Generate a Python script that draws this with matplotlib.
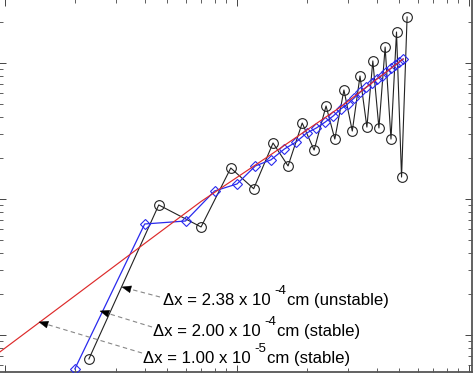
import numpy as np
import matplotlib
matplotlib.use("Agg")
import matplotlib.pyplot as plt
from matplotlib.patches import Polygon

plt.rcParams['font.family'] = ['Liberation Sans', 'DejaVu Sans']

# ---- data (x in units of 1e-4 cm) ----
x_unstable = [2.3, 4.6, 7.0, 9.4, 11.8, 14.3, 16.6, 19.1, 21.5, 24.2, 26.4,
              28.9, 31.4, 33.9, 36.3, 38.5, 40.9, 43.5, 46.1, 48.7, 51.2, 54.1]
y_unstable = [0.667, 9.04, 6.23, 16.9, 11.9, 25.8, 17.5, 36.2, 22.9, 48.3, 27.6,
              63.3, 31.6, 80.2, 33.8, 103.5, 33.3, 131.0, 27.6, 169.0, 14.5, 218.0]

x_stable2 = [2, 4, 6, 8, 10, 12, 14, 16, 18, 20, 22, 24, 26, 28, 30, 32,
             34, 36, 38, 40, 42, 44, 46, 48, 50, 52]
y_stable2 = [0.563, 6.55, 6.89, 11.45, 12.9, 17.5, 19.4, 23.3, 26.3, 30.6, 33.3,
             36.8, 40.8, 45.9, 50.0, 55.3, 61.2, 66.1, 71.3, 76.3, 80.9, 85.9,
             91.2, 96.6, 101.7, 107.0]

x_stable1 = [0.9, 2.0, 4.0, 7.0, 14.0, 28.0, 52.0]
y_stable1 = [0.70, 1.94, 4.71, 9.59, 21.2, 47.6, 107.0]

label_main = ["Δx = 2.38 x 10", "Δx = 2.00 x 10", "Δx = 1.00 x 10"]
label_exp = ["-4", "-4", "-5"]
label_tail = ["cm (unstable)", "cm (stable)", "cm (stable)"]

W, H = 474, 378
fig = plt.figure(figsize=(W / 100, H / 100), dpi=100)

# axes in pixel geometry
ax_l, ax_r, ax_t, ax_b = -1, 472, -1, 372
ax = fig.add_axes([ax_l / W, 1 - ax_b / H, (ax_r - ax_l) / W, (ax_b - ax_t) / H])
ax.set_xscale('log')
ax.set_yscale('log')

def xval(px):
    return 10 ** ((px - 5) / 232.0)

def yval(py):
    return 10 ** ((335 - py) / 136.0)

ax.set_xlim(xval(ax_l), xval(ax_r))
ax.set_ylim(yval(ax_b), yval(ax_t))

ax.plot(x_unstable, y_unstable, '-', color='#222222', lw=0.8,
        marker='o', ms=7, mfc='none', mec='#222222', mew=0.8, zorder=3)
ax.plot(x_stable2, y_stable2, '-', color='#2a2aee', lw=0.9,
        marker='D', ms=4.6, mfc='none', mec='#2a2aee', mew=0.8, zorder=4)
ax.plot(x_stable1, y_stable1, '-', color='#dd2a2a', lw=0.85, zorder=5)

ax.tick_params(which='both', direction='in', top=True, right=True,
               labelbottom=False, labelleft=False, colors='#444444')
ax.tick_params(which='major', length=5, width=0.7)
ax.tick_params(which='minor', length=3, width=0.6)
for s in ax.spines.values():
    s.set_color('#555555')
    s.set_linewidth(1.3)

# text labels (figure pixel positions), superscript built from pieces
text_pos = [(163, 305), (153, 336), (143, 363)]
fig.canvas.draw()
renderer = fig.canvas.get_renderer()
for (tx, ty), m, e, t in zip(text_pos, label_main, label_exp, label_tail):
    t1 = fig.text(tx / W, 1 - ty / H, m, fontsize=12.1, ha='left', va='baseline')
    bb = t1.get_window_extent(renderer)
    x2 = bb.x1 + 4
    t2 = fig.text(x2 / W, 1 - (ty - 11) / H, e, fontsize=9.5, ha='left', va='baseline')
    bb2 = t2.get_window_extent(renderer)
    fig.text((bb2.x1 + 0.5) / W, 1 - ty / H, t, fontsize=12.1, ha='left',
             va='baseline')

# dashed arrows
arrows = [((160, 297), (122, 287)),
          ((152, 327), (100, 311)),
          ((142, 353), (39, 322))]
for (tx, ty), (hx, hy) in arrows:
    d = np.array([hx - tx, hy - ty], float)
    L = np.hypot(*d)
    u = d / L
    n = np.array([-u[1], u[0]])
    base = np.array([hx, hy]) - 9 * u
    fig.add_artist(plt.Line2D([tx / W, base[0] / W], [1 - ty / H, 1 - base[1] / H],
                              transform=fig.transFigure, color='#888888', lw=0.8,
                              dashes=(4, 3)))
    pts = [np.array([hx, hy]), base + 3.5 * n, base - 3.5 * n]
    poly = Polygon([(p[0] / W, 1 - p[1] / H) for p in pts], closed=True,
                   transform=fig.transFigure, facecolor='black', edgecolor='black',
                   lw=0.3)
    fig.add_artist(poly)

fig.savefig('out.png', dpi=100)
